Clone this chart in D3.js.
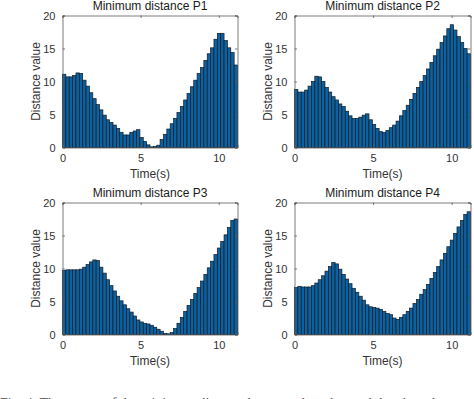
<!DOCTYPE html>
<html><head><meta charset="utf-8">
<script src="https://cdn.jsdelivr.net/npm/d3@7"></script>
<style>html,body{margin:0;padding:0;background:#fff;overflow:hidden}svg{display:block}</style>
</head><body>
<svg id="c" width="474" height="399"></svg>
<script>
// ---- data ----
const panelTitles = ["Minimum distance P1", "Minimum distance P2", "Minimum distance P3", "Minimum distance P4"];
const valuesP1 = [11.1,10.7,10.7,10.9,11.3,11.2,10.2,9.3,8.3,7.4,6.5,5.7,4.9,4.2,3.8,3.4,2.9,2.3,1.9,1.9,2.3,2.5,2.7,1.5,0.9,0.4,0.1,0.15,0.35,1.2,2.0,2.8,3.6,4.4,5.3,6.2,7.2,8.2,9.2,10.2,11.2,12.1,13.2,14.2,15.1,16.4,17.3,17.3,16.2,15.1,14.4,12.5];
const valuesP2 = [8.8,8.4,8.4,8.7,9.3,10.0,10.8,10.7,10.0,9.1,8.4,7.7,7.2,6.6,6.2,5.5,4.8,4.4,4.4,4.6,4.9,5.1,4.2,3.5,2.9,2.4,2.3,2.6,3.0,3.4,4.0,4.8,5.6,6.4,7.3,8.2,9.1,10.0,10.9,11.9,12.9,13.9,14.9,15.9,16.9,18.0,18.6,17.8,16.8,15.9,15.0,14.2];
const valuesP3 = [9.7,9.8,9.8,9.8,9.8,9.9,10.2,10.6,11.0,11.3,11.2,10.2,9.3,8.3,7.4,6.6,5.8,5.1,4.5,3.9,3.4,2.8,2.2,1.9,1.7,1.6,1.4,1.1,0.8,0.5,0.15,0.1,0.3,0.9,1.7,2.6,3.5,4.4,5.3,6.2,7.1,8.1,9.1,10.1,11.1,12.1,13.1,14.1,15.1,16.2,17.3,17.5];
const valuesP4 = [7.1,7.3,7.2,7.2,7.2,7.4,7.8,8.3,8.9,9.6,10.3,10.9,10.7,9.9,9.1,8.4,7.7,7.0,6.4,5.8,5.2,4.5,4.2,4.1,4.0,3.8,3.5,3.2,3.0,2.5,2.3,2.6,3.0,3.5,4.0,4.7,5.3,6.1,6.8,7.6,8.5,9.4,10.3,11.3,12.3,13.3,14.3,15.3,16.3,17.3,18.2,18.6];
const xTicks = [0, 5, 10];
const yTicks = [0, 5, 10, 15, 20];
const xDomain = [0, 11.2];
const yDomain = [0, 20];
const timeStep = 0.2154;
const xLabel = "Time(s)";
const yLabel = "Distance value";
const caption = "Fig. 4. The curves of the minimum distance between the robot and the obstacles";

const allValues = [valuesP1, valuesP2, valuesP3, valuesP4];

// ---- layout ----
const boxes = [
  {l: 62.5, t: 15.5, r: 237.5, b: 147.5},
  {l: 294.5, t: 15.5, r: 470.5, b: 147.5},
  {l: 62.5, t: 202.5, r: 237.5, b: 334.5},
  {l: 294.5, t: 202.5, r: 470.5, b: 334.5}
];
const FONT = "'Liberation Sans', Arial, Helvetica, sans-serif";
const svg = d3.select("#c");

boxes.forEach((bx, k) => {
  const vals = allValues[k];
  const x = d3.scaleLinear().domain(xDomain).range([bx.l, bx.r]);
  const y = d3.scaleLinear().domain(yDomain).range([bx.b, bx.t]);
  const g = svg.append("g");

  // bars
  g.append("g").selectAll("rect").data(vals).join("rect")
    .attr("x", (d, i) => x(i * timeStep))
    .attr("width", (d, i) => x((i + 1) * timeStep) - x(i * timeStep))
    .attr("y", d => y(d))
    .attr("height", d => y(0) - y(d))
    .attr("fill", "#0b62a3")
    .attr("stroke", "#111a22")
    .attr("stroke-width", 0.7);

  // axes (MATLAB style: ticks inside, box)
  const tl = -2.5;
  const bottomAx = d3.axisBottom(x).tickValues(xTicks).tickSize(tl).tickPadding(7).tickFormat(d3.format("d"));
  const topAx = d3.axisTop(x).tickValues(xTicks).tickSize(tl).tickFormat("");
  const leftAx = d3.axisLeft(y).tickValues(yTicks).tickSize(tl).tickPadding(7).tickFormat(d3.format("d"));
  const rightAx = d3.axisRight(y).tickValues(yTicks).tickSize(tl).tickFormat("");

  const styleAx = sel => {
    sel.selectAll("path").attr("stroke", "#5a5a5a").attr("stroke-width", 0.8);
    sel.selectAll("line").attr("stroke", "#5a5a5a").attr("stroke-width", 0.8);
    sel.selectAll("text").attr("fill", "#333").attr("font-family", FONT).attr("font-size", 11);
    sel.attr("font-family", FONT);
  };
  g.append("g").attr("transform", `translate(0,${bx.b})`).call(bottomAx).call(styleAx);
  g.append("g").attr("transform", `translate(0,${bx.t})`).call(topAx).call(styleAx);
  g.append("g").attr("transform", `translate(${bx.l},0)`).call(leftAx).call(styleAx);
  g.append("g").attr("transform", `translate(${bx.r},0)`).call(rightAx).call(styleAx);

  // title
  g.append("text")
    .attr("x", (bx.l + bx.r) / 2).attr("y", bx.t - 6)
    .attr("text-anchor", "middle")
    .attr("font-family", FONT).attr("font-size", 12).attr("fill", "#1a1a1a")
    .text(panelTitles[k]);
  // x label
  g.append("text")
    .attr("x", (bx.l + bx.r) / 2).attr("y", bx.b + 30)
    .attr("text-anchor", "middle")
    .attr("font-family", FONT).attr("font-size", 12).attr("fill", "#333")
    .text(xLabel);
  // y label
  g.append("text")
    .attr("transform", `translate(${bx.l - 23},${(bx.t + bx.b) / 2}) rotate(-90)`)
    .attr("text-anchor", "middle")
    .attr("font-family", FONT).attr("font-size", 12).attr("fill", "#333")
    .text(yLabel);
});

// caption (cut off at the bottom edge, as in the source)
svg.append("text")
  .attr("x", 0).attr("y", 408)
  .attr("font-family", "'Liberation Serif', 'Times New Roman', serif")
  .attr("font-size", 14).attr("fill", "#555")
  .text(caption);
</script>
</body></html>
